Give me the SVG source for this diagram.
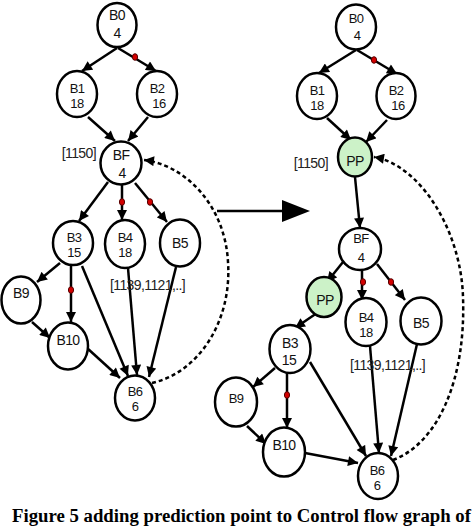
<svg xmlns="http://www.w3.org/2000/svg" width="474" height="528" viewBox="0 0 474 528">
<defs>
<marker id="ah" viewBox="0 0 10 10" refX="10" refY="5" markerWidth="11" markerHeight="10" markerUnits="userSpaceOnUse" orient="auto"><path d="M0,0 L10,5 L0,10 z" fill="#000"/></marker>
</defs>
<style>
.n{fill:#fff;stroke:#000;stroke-width:2.5}
.g{fill:#ccf2c8;stroke:#000;stroke-width:2.5}
.t{font-family:"Liberation Sans",Arial,sans-serif;font-size:14px;text-anchor:middle;letter-spacing:-0.6px;fill:#111}
.r{font-size:13px}
.e{stroke:#000;stroke-width:2.5;fill:none;marker-end:url(#ah)}
.d{stroke:#000;stroke-width:2.5;fill:none;stroke-dasharray:4 3;marker-end:url(#ah)}
.p{fill:#d40000;stroke:#500;stroke-width:1}
.lab{font-family:"Liberation Sans",Arial,sans-serif;font-size:14px;letter-spacing:-0.6px;fill:#222}
</style>
<rect width="474" height="528" fill="#fff"/>
<g id="connectors">
<line class="e" x1="117" y1="48" x2="82" y2="71"/>
<line class="e" x1="118" y1="48" x2="156" y2="71"/>
<line class="e" x1="88" y1="117" x2="115" y2="141"/>
<line class="e" x1="148" y1="117" x2="128" y2="141"/>
<line class="e" x1="108" y1="182" x2="79" y2="221"/>
<line class="e" x1="122" y1="185" x2="122" y2="220"/>
<line class="e" x1="135" y1="183" x2="167" y2="222"/>
<line class="e" x1="60" y1="263" x2="37" y2="282"/>
<line class="e" x1="71" y1="265" x2="71" y2="322"/>
<line class="e" x1="82" y1="266" x2="128" y2="376"/>
<line class="e" x1="128" y1="268" x2="137" y2="375"/>
<line class="e" x1="176" y1="267" x2="149" y2="377"/>
<line class="e" x1="32" y1="322" x2="50" y2="338"/>
<line class="e" x1="87" y1="348" x2="120" y2="378"/>
<path class="d" d="M152,383 C200,372 232,320 228,262 C225,205 185,165 144,160"/>
<line x1="217" y1="211" x2="285" y2="211" stroke="#000" stroke-width="2.5"/>
<polygon points="282,200 310,211 282,222" fill="#000"/>
<line class="e" x1="356" y1="50" x2="319" y2="73"/>
<line class="e" x1="357" y1="50" x2="397" y2="74"/>
<line class="e" x1="327" y1="118" x2="351" y2="140"/>
<line class="e" x1="387" y1="120" x2="366" y2="142"/>
<line class="e" x1="355" y1="177" x2="360" y2="228"/>
<line class="e" x1="343" y1="262" x2="327" y2="282"/>
<line class="e" x1="362" y1="270" x2="362" y2="300"/>
<line class="e" x1="377" y1="264" x2="405" y2="300"/>
<line class="e" x1="317" y1="313" x2="295" y2="328"/>
<line class="e" x1="275" y1="368" x2="253" y2="387"/>
<line class="e" x1="287" y1="373" x2="287" y2="428"/>
<line class="e" x1="310" y1="362" x2="366" y2="456"/>
<line class="e" x1="370" y1="346" x2="379" y2="453"/>
<line class="e" x1="417" y1="344" x2="391" y2="456"/>
<line class="e" x1="247" y1="426" x2="266" y2="444"/>
<line class="e" x1="305" y1="453" x2="358" y2="463"/>
<path class="d" d="M393,460 C438,443 466,380 463,297 C461,230 420,165 374,157"/>
<ellipse class="p" cx="135" cy="57" rx="2.6" ry="3.3"/>
<ellipse class="p" cx="122" cy="202" rx="2.6" ry="3.3"/>
<ellipse class="p" cx="150" cy="202" rx="2.6" ry="3.3"/>
<ellipse class="p" cx="71" cy="290" rx="2.6" ry="3.3"/>
<ellipse class="p" cx="374" cy="60" rx="2.6" ry="3.3"/>
<ellipse class="p" cx="363" cy="282" rx="2.6" ry="3.3"/>
<ellipse class="p" cx="391" cy="282" rx="2.6" ry="3.3"/>
<ellipse class="p" cx="287" cy="395" rx="2.6" ry="3.3"/>
</g>
<g id="L_B0"><ellipse class="n" cx="117" cy="25" rx="19.5" ry="22"/><text class="t" x="117" y="20">B0</text><text class="t" x="117" y="38">4</text></g>
<g id="L_B1"><ellipse class="n" cx="77" cy="94" rx="20" ry="23"/><text class="t r" x="77" y="93">B1</text><text class="t r" x="77" y="108">18</text></g>
<g id="L_B2"><ellipse class="n" cx="157" cy="94" rx="20" ry="23"/><text class="t r" x="157" y="93">B2</text><text class="t r" x="159" y="108">16</text></g>
<g id="L_BF"><ellipse class="n" cx="121" cy="163" rx="20.5" ry="21.5"/><text class="t" x="121" y="160">BF</text><text class="t" x="122" y="178">4</text></g>
<g id="L_B3"><ellipse class="n" cx="73" cy="243" rx="20" ry="22"/><text class="t r" x="74" y="242">B3</text><text class="t r" x="74" y="257">15</text></g>
<g id="L_B4"><ellipse class="n" cx="125" cy="244" rx="20" ry="24"/><text class="t r" x="125" y="242">B4</text><text class="t r" x="125" y="257">18</text></g>
<g id="L_B5"><ellipse class="n" cx="180" cy="243" rx="20" ry="23.5"/><text class="t" x="180" y="248">B5</text></g>
<g id="L_B9"><ellipse class="n" cx="21" cy="300" rx="19.5" ry="23.5"/><text class="t" x="21" y="298">B9</text></g>
<g id="L_B10"><ellipse class="n" cx="68" cy="346" rx="20" ry="23.5"/><text class="t" x="68" y="345">B10</text></g>
<g id="L_B6"><ellipse class="n" cx="135" cy="398" rx="20" ry="22.5"/><text class="t r" x="135" y="396">B6</text><text class="t r" x="135" y="411">6</text></g>
<text class="lab" x="96" y="158" text-anchor="end">[1150]</text>
<text class="lab" x="110" y="290">[1139,1121,..]</text>
<g id="R_B0"><ellipse class="n" cx="356" cy="27" rx="20" ry="22.5"/><text class="t r" x="356" y="23">B0</text><text class="t r" x="357" y="40">4</text></g>
<g id="R_B1"><ellipse class="n" cx="317" cy="96" rx="20" ry="23"/><text class="t r" x="317" y="95">B1</text><text class="t r" x="317" y="110">18</text></g>
<g id="R_B2"><ellipse class="n" cx="396" cy="96" rx="19.5" ry="23"/><text class="t r" x="396" y="95">B2</text><text class="t r" x="398" y="110">16</text></g>
<g id="R_PP1"><ellipse class="g" cx="355" cy="157" rx="17" ry="19.5"/><text class="t" x="355" y="166">PP</text></g>
<g id="R_BF"><ellipse class="n" cx="360" cy="249" rx="21" ry="21"/><text class="t r" x="361" y="243">BF</text><text class="t r" x="361" y="262">4</text></g>
<g id="R_PP2"><ellipse class="g" cx="324" cy="297" rx="17.5" ry="20"/><text class="t" x="325" y="305">PP</text></g>
<g id="R_B4"><ellipse class="n" cx="366" cy="322" rx="20.5" ry="24"/><text class="t r" x="366" y="322">B4</text><text class="t r" x="366" y="337">18</text></g>
<g id="R_B5"><ellipse class="n" cx="421" cy="321" rx="20.5" ry="23.5"/><text class="t" x="421" y="328">B5</text></g>
<g id="R_B3"><ellipse class="n" cx="290" cy="349" rx="20.5" ry="24"/><text class="t" x="290" y="348">B3</text><text class="t" x="289" y="365">15</text></g>
<g id="R_B9"><ellipse class="n" cx="236" cy="402" rx="21" ry="24.5"/><text class="t r" x="236" y="403">B9</text></g>
<g id="R_B10"><ellipse class="n" cx="284" cy="452" rx="21" ry="24.5"/><text class="t" x="284" y="450">B10</text></g>
<g id="R_B6"><ellipse class="n" cx="378" cy="476" rx="20" ry="23"/><text class="t r" x="377" y="475">B6</text><text class="t r" x="377" y="490">6</text></g>
<text class="lab" x="328" y="168" text-anchor="end">[1150]</text>
<text class="lab" x="350" y="370">[1139,1121,..]</text>
<text x="12" y="522" font-family="'Liberation Serif','Times New Roman',serif" font-weight="bold" font-size="18" textLength="459" lengthAdjust="spacingAndGlyphs">Figure 5 adding prediction point to Control flow graph of</text>
</svg>
